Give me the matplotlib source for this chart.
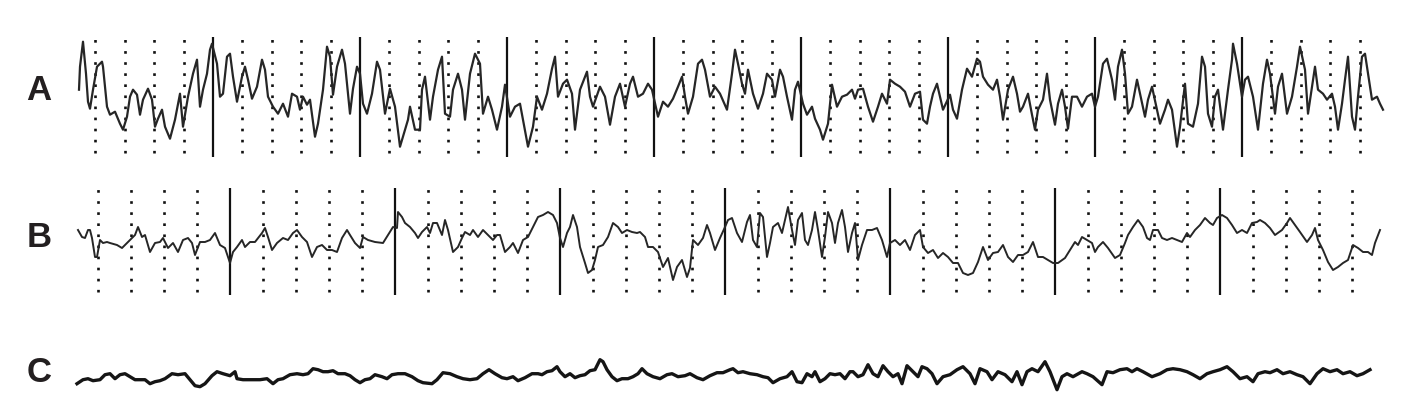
import numpy as np
import matplotlib
matplotlib.use('Agg')
from matplotlib import pyplot as plt

# trace A : sample index (fs = 147 Hz) and amplitude (uV)
FS_A = 147
A_s = np.array([13, 14, 17, 20, 22, 24, 27, 31, 36, 37, 41, 44, 49, 54, 57, 61, 64, 67, 71, 74,
                77, 82, 86, 89, 92, 96, 99, 104, 109, 114, 117, 122, 127, 131, 134, 137, 141, 144, 146, 151,
                154, 157, 161, 164, 167, 171, 176, 179, 182, 186, 191, 196, 199, 202, 207, 212, 217, 222, 226, 231,
                234, 237, 241, 244, 249, 252, 257, 261, 264, 267, 271, 276, 279, 284, 287, 291, 294, 297, 301, 306,
                311, 314, 319, 324, 329, 334, 337, 342, 344, 349, 354, 356, 359, 364, 367, 372, 376, 379, 384, 387,
                392, 396, 399, 404, 409, 414, 417, 422, 426, 431, 436, 439, 444, 449, 454, 457, 462, 467, 471, 476,
                481, 486, 489, 492, 497, 501, 506, 509, 514, 521, 524, 527, 534, 539, 544, 549, 554, 559, 564, 567,
                572, 577, 582, 586, 592, 597, 602, 607, 612, 616, 619, 622, 627, 632, 636, 639, 644, 649, 654, 661,
                666, 669, 672, 676, 679, 682, 687, 692, 697, 701, 706, 709, 714, 717, 721, 726, 729, 732, 737, 741,
                746, 749, 754, 757, 762, 766, 771, 776, 781, 786, 789, 792, 797, 802, 807, 812, 816, 821, 824, 829,
                834, 839, 844, 849, 854, 857, 861, 864, 867, 871, 874, 877, 884, 887, 891, 896, 901, 906, 911, 914,
                917, 922, 927, 931, 934, 937, 942, 947, 951, 954, 957, 962, 966, 969, 972, 977, 981, 984, 989, 992,
                996, 999, 1002, 1006, 1011, 1016, 1021, 1026, 1029, 1032, 1037, 1041, 1046, 1049, 1052, 1056, 1059, 1062, 1066, 1071,
                1074, 1079, 1082, 1086, 1091, 1094, 1099, 1102, 1106, 1111, 1114, 1119, 1122, 1127, 1132, 1136, 1139, 1142, 1146, 1149,
                1152, 1157, 1162, 1166, 1167, 1171, 1176, 1179, 1182, 1187, 1192, 1197, 1201, 1204, 1209, 1212, 1216, 1221, 1226, 1231,
                1234, 1239, 1242, 1246, 1249, 1252, 1257, 1261, 1266, 1269, 1272, 1276, 1279, 1282, 1286, 1289, 1292, 1296, 1299, 1302,
                1306, 1311, 1314, 1317])
A_uv = np.array([7, 30, 55, 23, -5, -12, 7, 30, 35, 30, -10, -18, -15, -27, -33, -20, 0, 7, 2, -18,
                 -3, 8, -3, -30, -22, -13, -30, -42, -23, 3, -30, 0, 23, 37, -10, 7, 23, 47, 53, 33,
                 0, 3, 40, 43, 20, -5, 20, 30, 17, -2, 10, 37, 27, 0, -10, -17, -7, -20, 3, 0,
                 -13, 0, -8, -3, -40, -27, 7, 50, 40, 2, 30, 47, 33, -17, 8, 30, 23, -7, -17, 3,
                 35, 27, -17, 8, -10, -50, -40, -23, -10, -33, -33, 7, 20, -23, 0, 27, 40, -17, -20, 7,
                 23, 7, -23, 23, 43, 33, -17, 0, -13, -33, -10, 12, -20, -10, -7, -23, -50, -30, 0, -13,
                 3, 28, 40, 0, 13, 17, 3, -33, 7, 25, 0, -10, 10, 0, -28, 0, 13, -10, 13, 20,
                 0, 3, 13, 7, -20, -5, -10, -2, 10, 20, 0, -17, 0, 33, 37, 27, 0, 10, 3, -13,
                 23, 47, 33, 13, 3, 27, 3, -12, 3, 23, 17, 0, 27, 20, 0, -23, 7, 15, -7, -18,
                 -10, -22, -33, -43, -27, 12, -10, 0, 2, 7, -2, 7, 8, -10, -25, -10, 3, -7, 17, 13,
                 10, 5, -10, 3, 5, -23, -27, -10, 3, 13, 0, -13, 2, -13, -22, 7, 28, 20, 38, 35,
                 20, 12, 7, 17, 0, -23, 7, 20, 3, -15, -10, 3, -18, -33, -13, -3, 23, -3, -28, -7,
                 7, -10, -32, 0, 0, -10, 0, 3, -10, 0, 33, 38, 17, -3, 30, 47, 23, -17, -10, 17,
                 3, -20, -3, 10, -13, -27, -13, -3, -13, -50, -30, 13, -27, -30, -7, 40, 30, -17, -30, 0,
                 7, -33, 7, 37, 53, 33, 0, 17, 20, 0, -33, 13, 37, 23, -17, 10, 23, -17, 0, 30,
                 50, 27, -17, 10, 30, 7, 3, -3, 3, -10, -33, -7, 17, 40, -20, -33, 0, 40, 43, 23,
                 -3, 0, -7, -13])

# trace B : sample index (fs = 165 Hz) and amplitude (uV)
FS_B = 165
B_s = np.array([13, 17, 20, 23, 25, 27, 30, 32, 35, 38, 42, 45, 52, 57, 62, 67, 70, 73, 77, 80,
                85, 90, 95, 98, 103, 108, 113, 118, 123, 127, 130, 135, 140, 145, 150, 155, 160, 165, 168, 172,
                177, 180, 185, 190, 197, 200, 203, 207, 212, 218, 223, 228, 232, 237, 242, 247, 252, 257, 262, 267,
                272, 277, 282, 285, 290, 295, 298, 303, 310, 318, 323, 328, 332, 333, 337, 340, 345, 350, 353, 357,
                362, 365, 368, 372, 377, 380, 383, 388, 393, 397, 400, 405, 408, 413, 418, 423, 428, 432, 435, 440,
                445, 448, 453, 458, 463, 468, 473, 478, 483, 488, 492, 495, 498, 502, 505, 508, 512, 515, 520, 523,
                527, 530, 533, 538, 543, 548, 553, 557, 562, 567, 572, 575, 580, 583, 588, 593, 598, 603, 608, 612,
                617, 622, 625, 628, 633, 638, 642, 645, 650, 655, 660, 663, 667, 670, 672, 677, 682, 685, 688, 692,
                695, 698, 702, 705, 708, 713, 717, 720, 723, 727, 730, 733, 737, 740, 743, 747, 750, 753, 757, 760,
                763, 767, 770, 773, 777, 780, 783, 787, 790, 793, 797, 802, 807, 812, 817, 822, 825, 830, 835, 840,
                845, 850, 855, 858, 863, 868, 873, 878, 883, 888, 893, 898, 903, 908, 913, 918, 923, 928, 933, 938,
                943, 948, 953, 958, 963, 968, 973, 978, 983, 988, 993, 1000, 1005, 1010, 1013, 1017, 1022, 1027, 1030, 1033,
                1038, 1043, 1050, 1055, 1060, 1063, 1068, 1073, 1078, 1082, 1085, 1088, 1093, 1097, 1102, 1107, 1112, 1117, 1122, 1125,
                1130, 1135, 1140, 1145, 1148, 1152, 1157, 1162, 1167, 1172, 1177, 1182, 1187, 1192, 1195, 1200, 1205, 1210, 1217, 1222,
                1225, 1230, 1235, 1242, 1247, 1250, 1253, 1258, 1263, 1268, 1273, 1278, 1283, 1288, 1293, 1298, 1303, 1307, 1310, 1315])
B_uv = np.array([10, 3, 2, 10, 10, 2, -17, -17, 0, -3, -2, -3, -5, -8, -3, 2, 5, 13, 3, 5,
                 -12, -3, -2, 2, -8, -3, -12, 0, 2, -3, -15, -2, -2, 0, 7, -5, -8, -23, -12, -7,
                 0, -7, -2, -2, 7, 12, 3, -10, -3, 2, 0, 7, 10, 3, -2, -17, -7, -5, -10, -10,
                 -12, 2, 10, 5, -3, -8, 3, 0, -2, -3, 5, 13, 12, 28, 23, 17, 13, 7, 2, 8,
                 13, 7, 17, 17, 5, 20, 10, -12, -7, 2, 8, 5, 10, 3, 10, 5, 0, 5, 5, -12,
                 -7, -3, -13, 0, 3, 13, 23, 25, 28, 25, 17, 2, -7, 7, 13, 25, 13, -7, -23, -33,
                 -30, -20, -7, -5, 3, 17, 13, 7, 10, 8, 7, 8, 3, -7, -7, -12, -27, -18, -40, -27,
                 -20, -37, -28, 0, -5, 2, 15, 7, -10, 2, 13, 20, 22, 13, 7, -2, 18, 25, 0, -7,
                 27, 23, -17, -3, 13, 17, 7, 20, 33, 10, -5, 20, 27, 0, -5, 10, 28, 10, -17, 3,
                 28, 17, -3, 17, 30, 13, -12, 7, 17, -20, -5, 10, 10, 12, 0, -17, -3, 0, -5, 0,
                 -10, 5, 10, -7, -13, -10, -18, -13, -17, -23, -23, -33, -35, -33, -22, -7, -20, -13, -12, -5,
                 -17, -22, -15, -15, -12, -2, -17, -17, -20, -23, -23, -18, -10, -2, -5, 3, 0, -3, -12, -7,
                 -2, -8, -18, -15, -3, 5, 13, 20, 13, 2, 0, 10, 10, 2, 0, 2, 0, -2, 7, 3,
                 10, 15, 22, 17, 15, 22, 25, 22, 15, 7, 10, 7, 17, 18, 20, 17, 12, 5, 10, 17,
                 22, 15, 8, -2, 5, 12, 0, -10, -22, -30, -27, -23, -20, -5, -8, -12, -12, -15, -3, 10])

# trace C : sample index (same scale as B) and amplitude (uV)
C_s = np.array([12, 18, 23, 28, 35, 40, 45, 50, 55, 60, 65, 70, 75, 80, 85, 90, 95, 100, 107, 113,
                120, 125, 130, 135, 140, 147, 152, 158, 165, 170, 172, 178, 187, 195, 202, 208, 213, 218, 225, 232,
                238, 243, 248, 253, 258, 263, 268, 273, 280, 285, 290, 295, 300, 305, 310, 317, 322, 327, 333, 340,
                347, 353, 358, 367, 372, 378, 385, 392, 398, 405, 412, 418, 424, 430, 437, 442, 448, 453, 460, 467,
                473, 477, 482, 487, 492, 495, 500, 505, 510, 515, 520, 525, 530, 535, 538, 542, 547, 552, 557, 563,
                568, 573, 577, 582, 588, 595, 602, 607, 613, 620, 625, 632, 638, 645, 652, 658, 665, 668, 673, 678,
                685, 692, 698, 703, 708, 715, 722, 727, 732, 737, 742, 747, 750, 755, 760, 765, 770, 775, 780, 785,
                788, 793, 798, 803, 808, 813, 818, 823, 828, 833, 837, 842, 848, 853, 857, 862, 867, 872, 878, 885,
                892, 898, 905, 910, 915, 922, 927, 933, 940, 947, 952, 957, 962, 967, 973, 980, 985, 992, 997, 1002,
                1008, 1017, 1022, 1028, 1037, 1042, 1048, 1055, 1062, 1067, 1072, 1078, 1087, 1095, 1102, 1108, 1115, 1122, 1128, 1135,
                1142, 1148, 1155, 1162, 1168, 1175, 1182, 1188, 1193, 1200, 1205, 1212, 1218, 1225, 1232, 1238, 1245, 1252, 1258, 1265,
                1272, 1278, 1285, 1292, 1298, 1305])
C_uv = np.array([-7, -3, -2, -4, -3, 2, 3, -2, 2, 3, 0, -3, -3, -3, -7, -5, -4, -2, 3, 2,
                 3, -3, -9, -10, -7, 1, 5, 3, 1, 5, -2, -3, -3, -3, -2, -7, -3, -2, 2, 3,
                 2, 3, 8, 7, 5, 5, 6, 3, 3, 1, -3, -6, -3, -2, 2, 0, -2, 2, 3, 3,
                 0, -4, -6, -7, -3, 4, 3, 0, -2, -3, -2, 3, 7, 3, -1, -2, 0, -4, -1, 3,
                 3, 2, 5, 6, 10, 5, 0, 3, -1, 1, 2, 6, 7, 17, 15, 7, 0, -4, -2, -2,
                 0, 3, 8, 3, 0, -2, 2, 3, 0, 1, 3, -1, -3, 1, 4, 4, 7, 8, 4, 5,
                 3, 2, 0, -1, -6, -2, 0, 5, -5, -6, 3, 0, 5, -5, -2, 3, 2, 3, -2, 5,
                 5, 0, 2, 12, 3, 0, 11, 5, 0, 3, -7, 11, 5, 0, 10, 8, 3, -7, 0, 2,
                 7, 10, 3, -7, 8, 5, -3, 5, 2, -5, 5, -8, 5, 8, 5, 15, 5, -13, 0, 3,
                 0, 5, 3, 0, -8, 5, 4, 7, 8, 5, 8, 5, 0, 3, 7, 8, 7, 5, 2, -2,
                 3, 5, 7, 10, 5, -2, 0, -5, 3, 5, 4, 7, 3, 5, 2, 0, -7, 3, 8, 5,
                 7, 3, 5, 1, 3, 7])

fig = plt.figure(figsize=(14.17, 4.19), dpi=100)
W, H = 1417, 419

def row_axes(top_px, bot_px, base_px, x0_px, fs):
    ax = fig.add_axes([0, 1 - bot_px / H, 1, (bot_px - top_px) / H])
    ax.set_xlim(-x0_px / fs, (W - x0_px) / fs)
    ax.set_ylim(base_px - bot_px, base_px - top_px)
    ax.axis('off')
    return ax

# A
axA = row_axes(30, 165, 96.7, 66, FS_A)
for k in range(1, 45):
    t = k * 0.2
    if k % 5 == 0:
        axA.vlines(t, -60, 60, color='#111111', lw=1.6)
    else:
        axA.vlines(t, -56, 59, color='#111111', lw=1.9, linestyles=(0, (1, 3.2)))
axA.plot(A_s / FS_A, A_uv, color='#262626', lw=1.6, solid_joinstyle='round')

# B
axB = row_axes(180, 305, 240, 65, FS_B)
for k in range(1, 40):
    t = k * 0.2
    if k % 5 == 0:
        axB.vlines(t, -55, 52, color='#111111', lw=1.6)
    else:
        axB.vlines(t, -52, 53, color='#111111', lw=1.9, linestyles=(0, (1, 3.2)))
axB.plot(B_s / FS_B, B_uv, color='#262626', lw=1.4, solid_joinstyle='round')

# C
axC = row_axes(340, 400, 376.7, 65, FS_B)
axC.plot(C_s / FS_B, C_uv, color='#151515', lw=2.4, solid_joinstyle='round')

for lab, ypx in [('A', 90), ('B', 237), ('C', 372)]:
    fig.text(39 / W, 1 - ypx / H, lab, ha='center', va='center', fontsize=25,
             fontweight='bold', family=['Liberation Sans', 'DejaVu Sans'], color='#231f20')

fig.savefig('out.png', dpi=100, facecolor='white')
